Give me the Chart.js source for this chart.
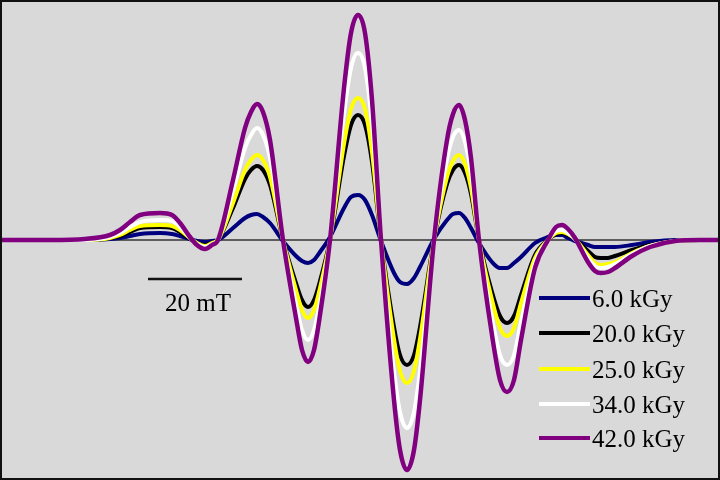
<!DOCTYPE html>
<html>
<head>
<meta charset="utf-8">
<script src="https://cdn.jsdelivr.net/npm/chart.js@4"></script>
<style>
  body { margin: 0; background: #fff; }
  #wrap { position: relative; width: 720px; height: 480px; background: #d9d9d9; }
  #spectra { position: absolute; left: 0; top: 0; }
  #frame { position: absolute; left: 0; top: 0; width: 720px; height: 480px; box-sizing: border-box;
           border: 2px solid #111; pointer-events: none; }
  .txt { position: absolute; font-family: "Liberation Serif", "Times New Roman", serif; font-size: 25px;
         line-height: 25px; color: #000; white-space: nowrap; }
  .key { position: absolute; width: 51px; height: 4px; }
</style>
</head>
<body>
<div id="wrap">
  <canvas id="spectra" width="720" height="480"></canvas>
  <div id="legend"></div>
  <div class="txt" id="scaleLabel" style="left:165px; top:290px;">20 mT</div>
  <div id="frame"></div>
</div>
<script>
// magnetic field position (horizontal position along the trace, arbitrary units)
const field = [0, 50, 85, 110, 120, 130, 140, 160, 172, 180,
               190, 197, 205, 212, 218, 233, 245, 251, 257, 263,
               270, 283, 296, 302, 308, 314, 320, 330, 344, 351,
               358, 365, 372, 381, 394, 400, 407, 414, 420, 434,
               447, 453, 459, 465, 471, 479, 492, 500, 507, 514,
               521, 535, 548, 556, 562, 568, 575, 588, 595, 601,
               608, 615, 632, 650, 675, 700, 720];

// ESR signal for each dose (arbitrary units)
const dose6 = [0, 0, 0, 1, 2, 4, 6, 7, 6, 4,
               1, -1, -2, -1, 0, 12, 22, 25, 26, 23,
               17, -1, -16, -21, -23, -20, -12, 3, 32, 43,
               45, 40, 25, -1, -33, -42, -44, -38, -27, 1,
               20, 26, 27, 22, 12, -3, -22, -28, -28, -23,
               -17, -3, 3, 5, 5, 2, -1, -5, -7, -7,
               -7, -7, -5, -2, 0, 0, 0];
const dose20 = [0, 0, 0, 2, 4, 8, 12, 13, 12, 8,
                1, -3, -5, -3, 0, 32, 61, 70, 74, 70,
                55, 0, -43, -60, -67, -60, -41, 0, 84, 115,
                125, 115, 78, 0, -87, -115, -125, -115, -87, 0,
                56, 70, 75, 67, 46, 0, -52, -76, -83, -76,
                -55, -15, 0, 6, 7, 5, 1, -11, -17, -18,
                -18, -16, -10, -5, -1, 0, 0];
const dose25 = [0, 0, 0, 2, 5, 10, 14, 15, 14, 10,
                2, -3, -6, -3, 0, 37, 70, 80, 85, 80,
                63, 0, -50, -70, -78, -70, -48, 0, 96, 131,
                142, 131, 88, 0, -99, -131, -143, -131, -99, 0,
                63, 79, 85, 76, 52, 0, -60, -88, -96, -88,
                -63, -18, 0, 7, 8, 6, 1, -15, -23, -25,
                -24, -22, -13, -6, -1, 0, 0];
const dose34 = [0, 0, 0, 3, 7, 13, 18, 20, 19, 13,
                2, -4, -7, -4, 0, 49, 92, 105, 112, 105,
                82, 0, -64, -90, -100, -90, -62, 0, 126, 172,
                187, 172, 116, 0, -131, -172, -188, -172, -131, 0,
                81, 103, 110, 98, 67, 0, -78, -115, -125, -115,
                -82, -23, 0, 9, 10, 7, 1, -18, -26, -28,
                -27, -24, -14, -6, -1, 0, 0];
const dose42 = [0, 0, 1, 5, 10, 18, 25, 27, 25, 17,
                3, -5, -9, -5, 0, 60, 112, 128, 136, 128,
                100, 0, -78, -110, -122, -110, -75, 0, 152, 207,
                225, 207, 140, 0, -160, -210, -230, -210, -160, 0,
                100, 126, 135, 120, 82, 0, -95, -140, -152, -140,
                -100, -28, 0, 13, 15, 11, 2, -22, -31, -33,
                -32, -28, -16, -7, -1, 0, 0];

const doseLabels = ["6.0 kGy", "20.0 kGy", "25.0 kGy", "34.0 kGy", "42.0 kGy"];
const doseColors = ["#00007f", "#000000", "#ffff00", "#ffffff", "#800080"];

// 20 mT scale bar, in the same units as the trace
const scaleBarX = [148, 242];
const scaleBarY = -39;

const series = [dose6, dose20, dose25, dose34, dose42];

const traces = series.map((vals, i) => ({
  label: doseLabels[i],
  data: field.map((x, j) => ({ x: x, y: vals[j] })),
  borderColor: doseColors[i],
  borderWidth: i === 4 ? 4.5 : 4,
  pointRadius: 0,
  cubicInterpolationMode: "monotone",
  order: 4 - i
}));

const baseline = {
  label: "baseline",
  data: [{ x: field[0], y: 0 }, { x: field[field.length - 1], y: 0 }],
  borderColor: "#333333",
  borderWidth: 1.5,
  pointRadius: 0,
  order: 10
};

const scaleBar = {
  label: "scale",
  data: scaleBarX.map(x => ({ x: x, y: scaleBarY })),
  borderColor: "#111111",
  borderWidth: 2.5,
  pointRadius: 0,
  order: 11
};

new Chart(document.getElementById("spectra"), {
  type: "line",
  data: { datasets: [...traces, baseline, scaleBar] },
  options: {
    responsive: false,
    animation: false,
    layout: { padding: 0 },
    plugins: { legend: { display: false }, tooltip: { enabled: false } },
    scales: {
      x: { type: "linear", min: 0, max: 720, display: false },
      y: { min: -240, max: 240, display: false }
    }
  }
});

// legend on the right, built from the same labels and colours
const legendRows = [298, 333, 369, 404, 438];
const legend = document.getElementById("legend");
doseLabels.forEach((lab, i) => {
  const key = document.createElement("div");
  key.className = "key";
  key.style.left = "539px";
  key.style.top = (legendRows[i] - 2) + "px";
  key.style.background = doseColors[i];
  legend.appendChild(key);

  const t = document.createElement("div");
  t.className = "txt";
  t.style.left = "592px";
  t.style.top = (legendRows[i] - 12) + "px";
  t.textContent = lab;
  legend.appendChild(t);
});
</script>
</body>
</html>
